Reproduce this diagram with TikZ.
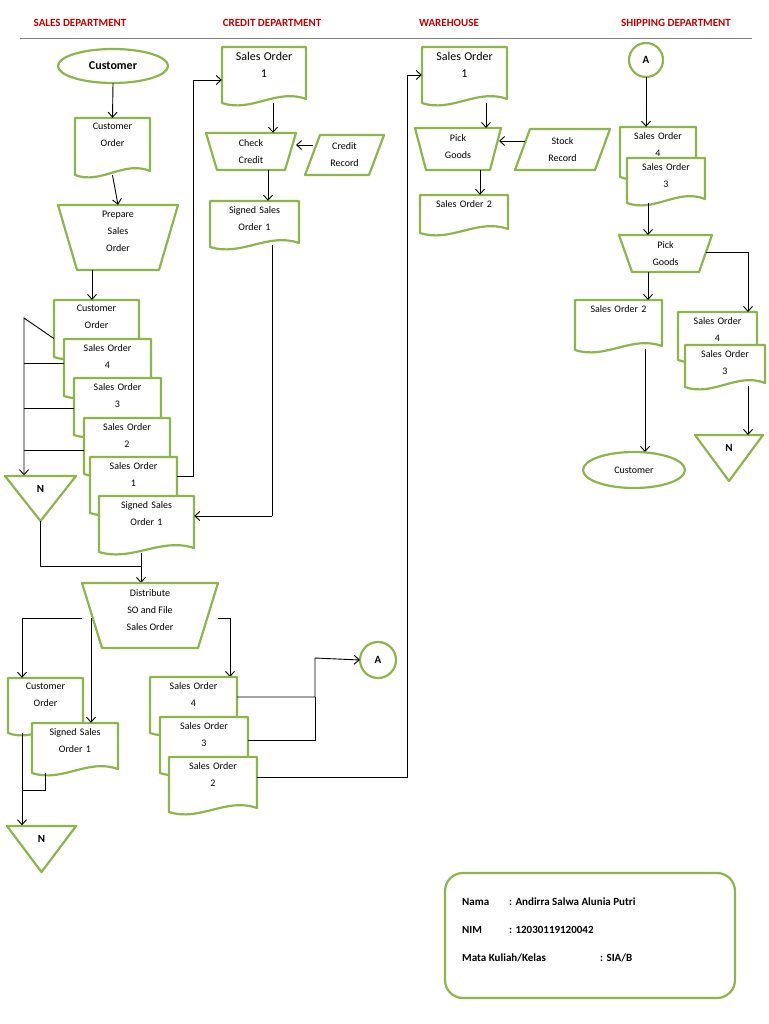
\documentclass[tikz,border=0pt]{standalone}
\usepackage{fontspec}
\setmainfont{Carlito}
\usetikzlibrary{arrows.meta,calc}
\definecolor{grn}{RGB}{142,180,75}
\definecolor{hdr}{RGB}{192,0,0}
\tikzset{
  shp/.style={draw=grn,line width=2.2pt,fill=white,line join=round},
  txt/.style={font=\fontsize{10}{17}\selectfont,align=center,inner sep=0pt},
  anc/.style={draw=none,inner sep=0pt},
  con/.style={draw=black,line width=0.9pt},
  arr/.style={con,-{Straight Barb[length=5pt,width=9pt]}},
  head/.style={font=\fontsize{11}{13}\selectfont\bfseries,text=hdr},
}
% document shape: name x1 y1 x2 y2 text
\newcommand\Doc[6]{%
  \pgfmathsetmacro\dw{#4-#2}\pgfmathsetmacro\dh{#5-#3}%
  \pgfmathsetmacro\dcx{(#2+#4)/2}\pgfmathsetmacro\dcy{(#3+#5)/2}%
  \draw[shp] (#2,#3) -- (#4,#3) -- (#4,#5-4) .. controls ({#4-0.35*\dw},#5-15) and ({#2+0.35*\dw},#5+10) .. (#2,#5) -- cycle;
  \node[anc,minimum width=\dw pt,minimum height=\dh pt] (#1) at (\dcx,\dcy) {};
  \node[txt,anchor=north,text width={\dw pt-4pt}] at (\dcx,#3+5) {#6};}
% trapezoid: name x1 x2 ytop inset ybot text
\newcommand\Trap[7]{%
  \pgfmathsetmacro\dcx{(#2+#3)/2}\pgfmathsetmacro\dcy{(#4+#6)/2}%
  \pgfmathsetmacro\dw{#3-#2}\pgfmathsetmacro\dh{#6-#4}%
  \draw[shp] (#2,#4) -- (#3,#4) -- (#3-#5,#6) -- (#2+#5,#6) -- cycle;
  \node[anc,minimum width=\dw pt,minimum height=\dh pt] (#1) at (\dcx,\dcy) {};
  \node[txt,anchor=north] at (\dcx,#4+6) {#7};}
% parallelogram: name x1 x2 ytop slant ybot text
\newcommand\Para[7]{%
  \pgfmathsetmacro\dcx{(#2+#3)/2}\pgfmathsetmacro\dcy{(#4+#6)/2}%
  \pgfmathsetmacro\dw{#3-#2}\pgfmathsetmacro\dh{#6-#4}%
  \draw[shp] (#2+#5,#4) -- (#3,#4) -- (#3-#5,#6) -- (#2,#6) -- cycle;
  \node[anc,minimum width=\dw pt,minimum height=\dh pt] (#1) at (\dcx,\dcy) {};
  \node[txt] at (\dcx,\dcy) {#7};}
% off-page triangle: name x1 x2 ytop ybot
\newcommand\Tri[5]{%
  \pgfmathsetmacro\dcx{(#2+#3)/2}%
  \draw[shp] (#2,#4) -- (#3,#4) -- (\dcx,#5) -- cycle;
  \node[anc] (#1) at (\dcx,#4) {};
  \node[txt,font=\fontsize{11}{13}\selectfont\bfseries] at (\dcx,#4+13) {N};}
\begin{document}
\begin{tikzpicture}[x=1pt,y=-1pt]
\useasboundingbox (0,0) rectangle (768,1024);
\fill[white] (0,0) rectangle (768,1024);
% headers
\node[head] at (80,23) {SALES DEPARTMENT};
\node[head] at (272,23) {CREDIT DEPARTMENT};
\node[head] at (449,23) {WAREHOUSE};
\node[head] at (676,23) {SHIPPING DEPARTMENT};
\draw[gray,line width=0.8pt] (20,38) -- (752,38);

% ===== Sales department
\draw[shp] (113,66) ellipse (55 and 17);
\node[anc,minimum width=110pt,minimum height=34pt] (cust) at (113,66) {};
\node[txt,font=\fontsize{12}{14}\selectfont\bfseries] at (113,66) {Customer};
\Doc{co}{75}{118}{150}{175}{Customer\\Order}
\Trap{prep}{58}{178}{205}{19}{270}{Prepare\\Sales\\Order}
\draw[arr] (cust.south) -- (co.north);
\draw[arr] (co.south) -- (prep.north);

\Doc{sco}{54}{300}{139}{357}{Customer\\Order}
\Doc{sso4}{64}{339}{151}{396}{Sales Order\\4}
\Doc{sso3}{74}{378}{161}{435}{Sales Order\\3}
\Doc{sso2}{84}{418}{170}{474}{Sales Order\\2}
\Doc{sso1}{90}{457}{177}{513}{Sales Order\\1}
\Doc{ssso}{99}{496}{194}{552}{Signed Sales\\Order 1}
\draw[arr] (prep.south -| 92,0) -- (92,300);
\Tri{n1}{5}{76}{476}{521}
\draw[arr] ([yshift=-10pt]sco.west) -- (24,318) -- (n1.north -| 24,0);
\draw[con] (24,363) -- (64,363);
\draw[con] (24,408) -- (74,408);
\draw[con] (24,450) -- (84,450);
\draw[con] (40,521) -- (40,566) -- (141,566);
\draw[arr] (141,553) -- (141,583);

\Trap{dist}{82}{218}{583}{20}{648}{Distribute\\SO and File\\Sales Order}
\Doc{co2}{8}{678}{83}{733}{Customer\\Order}
\Doc{sso1b}{32}{723}{118}{773}{Signed Sales\\Order 1}
\draw[con] (dist.west |- 0,618) -- (22,618);
\draw[arr] (22,618) -- (co2.north -| 22,0);
\draw[arr] (91,618) -- (sso1b.north -| 91,0);
\draw[arr] (dist.east |- 0,618) -- (230,618) -- (230,677);
\Tri{n2}{7}{76}{826}{872}
\draw[arr] (22,733) -- (n2.north -| 22,0);
\draw[con] (45,773) -- (45,790) -- (22,790);

\Doc{dso4}{150}{677}{237}{733}{Sales Order\\4}
\Doc{dso3}{160}{717}{248}{773}{Sales Order\\3}
\Doc{dso2}{169}{757}{257}{812}{Sales Order\\2}
\draw[shp] (378,660) circle (18);
\node[anc,minimum size=36pt,circle] (a1) at (378,660) {};
\node[txt,font=\fontsize{11}{13}\selectfont\bfseries] at (378,660) {A};
\draw[arr] (237,697) -- (315,697) -- (315,658) -- (a1.west);
\draw[con] (248,740) -- (315,740) -- (315,697);

% ===== Credit department
\Doc{cso1}{222}{47}{306}{103}{\fontsize{12}{18}\selectfont Sales Order\\1}
\Trap{chk}{206}{296}{133}{11}{170}{Check\\Credit}
\Para{crec}{305}{384}{135}{15}{175}{Credit\\Record}
\Doc{cssso}{210}{201}{299}{247}{Signed Sales\\Order 1}
\draw[arr] (cso1.south -| 273,0) -- (chk.north -| 273,0);
\draw[arr] (313,145) -- (296,145);
\draw[arr] (268,170) -- (cssso.north -| 268,0);
\draw[con] (sso1.east |- 0,476) -- (193,476) -- (193,80);
\draw[arr] (193,80) -- (cso1.west |- 0,80);
\draw[con] (272,245) -- (272,516);
\draw[arr] (272,516) -- (ssso.east |- 0,516);

% ===== Warehouse
\Doc{wso1}{422}{47}{507}{103}{\fontsize{12}{18}\selectfont Sales Order\\1}
\Trap{wpick}{415}{501}{128}{11}{170}{Pick\\Goods}
\Para{srec}{515}{610}{129}{15}{170}{Stock\\Record}
\Doc{wso2}{420}{195}{508}{233}{Sales Order 2}
\draw[arr] (486,103) -- (486,128);
\draw[arr] (525,141) -- (499,141);
\draw[arr] (480,170) -- (wso2.north -| 480,0);
\draw[con] (dso2.east |- 0,777) -- (407,777) -- (407,75);
\draw[arr] (407,75) -- (wso1.west |- 0,75);

% ===== Shipping
\draw[shp] (646,60) circle (17);
\node[anc,minimum size=34pt,circle] (a2) at (646,60) {};
\node[txt,font=\fontsize{11}{13}\selectfont\bfseries] at (646,60) {A};
\Doc{hso4}{620}{127}{696}{177}{Sales Order\\4}
\Doc{hso3}{627}{158}{705}{203}{Sales Order\\3}
\draw[arr] (a2.south) -- (hso4.north -| a2.south);
\Trap{hpick}{619}{712}{235}{13}{272}{Pick\\Goods}
\draw[arr] (648,203) -- (648,235);
\Doc{hso2}{575}{300}{662}{350}{Sales Order 2}
\draw[arr] (648,272) -- (648,300);
\Doc{hso4b}{678}{312}{757}{360}{Sales Order\\4}
\Doc{hso3b}{685}{345}{765}{387}{Sales Order\\3}
\draw[arr] (706,252) -- (748,252) -- (748,312);
\draw[shp] (634,470) ellipse (51 and 18);
\node[anc,minimum width=102pt,minimum height=36pt] (cust2) at (634,470) {};
\node[txt] at (634,470) {Customer};
\draw[arr] (645,349) -- (645,452);
\Tri{n3}{695}{763}{435}{481}
\draw[arr] (748,386) -- (748,435);

% ===== info box
\draw[shp,rounded corners=18pt] (445,873) rectangle (735,998);
\node[anc,minimum width=290pt,minimum height=125pt] (info) at (590,935) {};
\begin{scope}[every node/.style={anchor=west,font=\fontsize{11}{13}\selectfont\bfseries,inner sep=0pt}]
\node at (462,902) {Nama};
\node at (509,902) {: Andirra Salwa Alunia Putri};
\node at (462,930) {NIM};
\node at (509,930) {: 12030119120042};
\node at (462,958) {Mata Kuliah/Kelas};
\node at (600,958) {: SIA/B};
\end{scope}
\end{tikzpicture}
\end{document}
